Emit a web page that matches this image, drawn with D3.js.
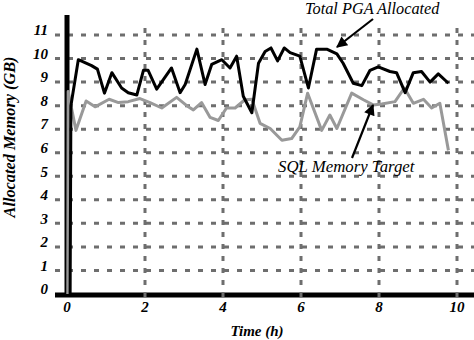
<!DOCTYPE html>
<html>
<head>
<meta charset="utf-8">
<script src="https://cdn.jsdelivr.net/npm/d3@7/dist/d3.min.js"></script>
<style>
  html, body { margin: 0; padding: 0; background: #fff; }
  svg { display: block; }
  text { font-family: "Liberation Serif", "Times New Roman", serif; }
</style>
</head>
<body>
<svg id="chart" width="474" height="340"></svg>
<script>
// ---- data ----
const pgaTime = [0.08, 0.10, 0.29, 0.63, 0.78, 0.96, 1.15, 1.40, 1.57, 1.79, 1.96, 2.08, 2.30, 2.68, 2.90, 3.03, 3.33, 3.54, 3.71, 3.97, 4.18, 4.35, 4.52, 4.74, 4.91, 5.08, 5.23, 5.40, 5.57, 5.72, 5.97, 6.19, 6.40, 6.66, 6.92, 7.08, 7.34, 7.56, 7.77, 7.98, 8.28, 8.45, 8.67, 8.88, 9.09, 9.31, 9.52, 9.78];
const pgaValue = [0, 8.0, 9.95, 9.7, 9.55, 8.53, 9.4, 8.75, 8.55, 8.45, 9.5, 9.5, 8.7, 9.6, 8.55, 8.9, 10.4, 8.9, 9.75, 9.95, 9.6, 10.1, 8.4, 7.7, 9.8, 10.3, 10.45, 9.9, 10.45, 10.25, 10.1, 8.75, 10.4, 10.4, 10.2, 9.8, 8.95, 8.85, 9.5, 9.65, 9.45, 9.4, 8.55, 9.4, 9.45, 9.0, 9.35, 8.95];

const sqlTime = [0.02, 0.03, 0.23, 0.49, 0.72, 1.08, 1.32, 1.57, 1.87, 2.13, 2.43, 2.81, 3.11, 3.24, 3.45, 3.67, 3.88, 4.09, 4.31, 4.56, 4.74, 4.95, 5.21, 5.51, 5.76, 5.97, 6.17, 6.53, 6.74, 6.92, 7.30, 7.60, 7.85, 8.07, 8.41, 8.65, 8.88, 9.14, 9.35, 9.56, 9.78];
const sqlValue = [0, 8.6, 6.95, 8.2, 7.95, 8.27, 8.13, 8.17, 8.3, 8.13, 7.9, 8.35, 7.95, 7.82, 8.13, 7.5, 7.37, 7.9, 7.9, 8.25, 8.27, 7.25, 7.03, 6.53, 6.6, 7.1, 8.53, 6.95, 7.6, 7.03, 8.53, 8.25, 8.03, 8.07, 8.17, 8.75, 8.1, 8.27, 7.9, 8.1, 6.1];

const xTicks = [0, 2, 4, 6, 8, 10];
const yTicks = [0, 1, 2, 3, 4, 5, 6, 7, 8, 9, 10, 11];
const xTitle = "Time (h)";
const yTitle = "Allocated Memory (GB)";
const pgaLabel = "Total PGA Allocated";
const sqlLabel = "SQL Memory Target";

// ---- drawing ----
const svg = d3.select("#chart");
const x = d3.scaleLinear().domain([0, 10]).range([67, 457]);
const y = d3.scaleLinear().domain([0, 11]).range([294, 35]);

const gridColor = "#6e6e6e";

// horizontal dashed gridlines
svg.append("g").selectAll("line")
  .data(yTicks.filter(d => d > 0))
  .join("line")
  .attr("x1", 55).attr("x2", 474)
  .attr("y1", d => y(d)).attr("y2", d => y(d))
  .attr("stroke", gridColor)
  .attr("stroke-width", 3)
  .attr("stroke-dasharray", "5,8");

// axes lines
svg.append("line")
  .attr("x1", 55).attr("x2", 474)
  .attr("y1", 295).attr("y2", 295)
  .attr("stroke", "#000").attr("stroke-width", 5);
svg.append("line")
  .attr("x1", x(0)).attr("x2", x(0))
  .attr("y1", 15).attr("y2", 297)
  .attr("stroke", "#000").attr("stroke-width", 5);

// vertical dashed gridlines
svg.append("g").selectAll("line")
  .data(xTicks.filter(d => d > 0))
  .join("line")
  .attr("x1", d => x(d)).attr("x2", d => x(d))
  .attr("y1", 297).attr("y2", 22)
  .attr("stroke", gridColor)
  .attr("stroke-width", 3)
  .attr("stroke-dasharray", "5,7");

// tick labels
svg.append("g").selectAll("text")
  .data(yTicks)
  .join("text")
  .attr("x", 48)
  .attr("y", d => y(d) - 5)
  .attr("dy", "0.35em")
  .attr("text-anchor", "end")
  .attr("font-size", 15)
  .attr("font-weight", "bold")
  .attr("font-style", "italic")
  .text(d => d);

svg.append("g").selectAll("text")
  .data(xTicks)
  .join("text")
  .attr("x", d => x(d))
  .attr("y", 312)
  .attr("text-anchor", "middle")
  .attr("font-size", 15)
  .attr("font-weight", "bold")
  .attr("font-style", "italic")
  .text(d => d);

// axis titles
svg.append("text")
  .attr("x", 257).attr("y", 336)
  .attr("text-anchor", "middle")
  .attr("font-size", 15)
  .attr("font-weight", "bold")
  .attr("font-style", "italic")
  .text(xTitle);

svg.append("text")
  .attr("transform", "translate(15,137) rotate(-90)")
  .attr("text-anchor", "middle")
  .attr("font-size", 16.3)
  .attr("font-weight", "bold")
  .attr("font-style", "italic")
  .text(yTitle);

// series lines
const line = d3.line().x(d => x(d[0])).y(d => y(d[1]));
svg.append("path")
  .datum(sqlTime.map((t, i) => [t, sqlValue[i]]))
  .attr("d", line)
  .attr("fill", "none")
  .attr("stroke", "#999999")
  .attr("stroke-width", 3)
  .attr("stroke-linejoin", "round");
svg.append("path")
  .datum(pgaTime.map((t, i) => [t, pgaValue[i]]))
  .attr("d", line)
  .attr("fill", "none")
  .attr("stroke", "#000")
  .attr("stroke-width", 3)
  .attr("stroke-linejoin", "round");

// annotations with arrows
const defs = svg.append("defs");
defs.append("marker")
  .attr("id", "arrow")
  .attr("viewBox", "0 0 10 10")
  .attr("refX", 9).attr("refY", 5)
  .attr("markerWidth", 6).attr("markerHeight", 5)
  .attr("markerUnits", "strokeWidth")
  .attr("orient", "auto")
  .append("path")
  .attr("d", "M0,0 L10,5 L0,10 Z")
  .attr("fill", "#000");

svg.append("text")
  .attr("x", 305).attr("y", 14)
  .attr("font-size", 16.3)
  .attr("font-style", "italic")
  .text(pgaLabel);
svg.append("line")
  .attr("x1", 373).attr("y1", 19)
  .attr("x2", 337).attr("y2", 47)
  .attr("stroke", "#000").attr("stroke-width", 2.2)
  .attr("marker-end", "url(#arrow)");

svg.append("text")
  .attr("x", 278).attr("y", 172)
  .attr("font-size", 16.8)
  .attr("font-style", "italic")
  .text(sqlLabel);
svg.append("line")
  .attr("x1", 352).attr("y1", 158)
  .attr("x2", 373).attr("y2", 105)
  .attr("stroke", "#000").attr("stroke-width", 2.2)
  .attr("marker-end", "url(#arrow)");
</script>
</body>
</html>
